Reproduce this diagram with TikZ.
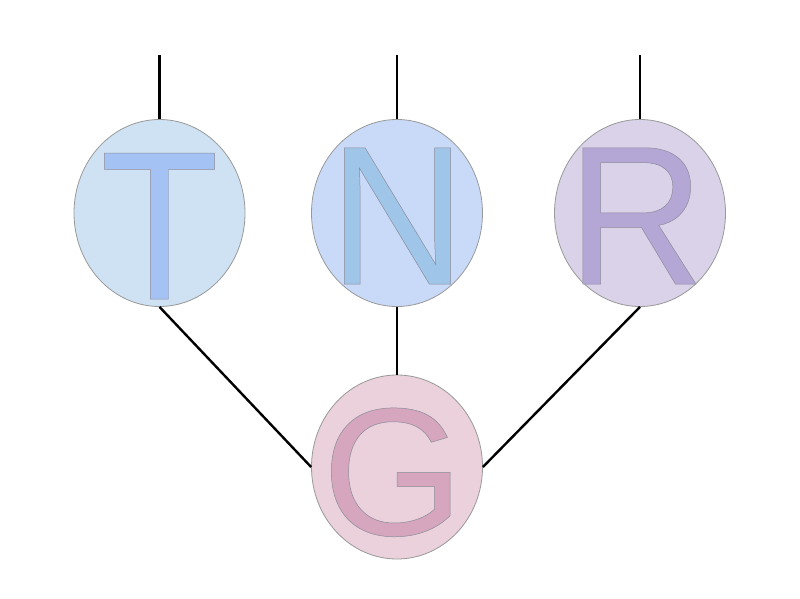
\documentclass[tikz,border=0pt]{standalone}
\usepackage{fontspec}
\setmainfont{Liberation Sans}
\usepackage{graphicx}
\definecolor{tfill}{HTML}{CFE2F3}
\definecolor{tlet}{HTML}{A4C2F4}
\definecolor{nfill}{HTML}{C9DAF8}
\definecolor{nlet}{HTML}{9FC5E8}
\definecolor{rfill}{HTML}{D9D2E9}
\definecolor{rlet}{HTML}{B4A7D6}
\definecolor{gfill}{HTML}{EAD1DC}
\definecolor{glet}{HTML}{D5A6BD}
\newcommand{\outl}[1]{\special{pdf:literal direct 0.55 0.55 0.6 RG 0.5 w 2 Tr}#1\special{pdf:literal direct 0 Tr}}
\tikzset{
  bubble/.style={ellipse, minimum width=171pt, minimum height=187pt, inner sep=0pt, draw=black!40, line width=0.8pt},
  letter/.style={anchor=base, inner sep=0pt, outer sep=0pt},
  link/.style={line width=2.4pt, black}
}
\usetikzlibrary{shapes.geometric}
\begin{document}
\begin{tikzpicture}[x=1pt,y=-1pt]
\useasboundingbox (0,0) rectangle (800,599);
\node[bubble, fill=tfill] (T) at (159.5,213) {};
\node[bubble, fill=nfill] (N) at (397,213) {};
\node[bubble, fill=rfill] (R) at (640,213) {};
\node[bubble, fill=gfill, minimum height=184pt] (G) at (397,467) {};
\node[letter, text=tlet] (Tl) at (159.5,299) {\fontsize{212}{212}\selectfont\scalebox{0.92}[1]{\outl{T}}};
\node[letter, text=nlet] (Nl) at (397.5,284) {\fontsize{198}{198}\selectfont\scalebox{0.96}[1]{\outl{N}}};
\node[letter, text=rlet] (Rl) at (636,284) {\fontsize{198}{198}\selectfont\scalebox{0.96}[1]{\outl{R}}};
\node[letter, text=glet] (Gl) at (393,535) {\fontsize{182}{182}\selectfont\outl{G}};
\coordinate (tT) at (159.5,55);
\coordinate (tN) at (397,55);
\coordinate (tR) at (640,55);
\draw[link] (tT) -- (T.north);
\draw[link] (tN) -- (N.north);
\draw[link] (tR) -- (R.north);
\draw[link] (T.south) -- (G.west);
\draw[link] (N.south) -- (G.north);
\draw[link] (R.south) -- (G.east);
\end{tikzpicture}
\end{document}
